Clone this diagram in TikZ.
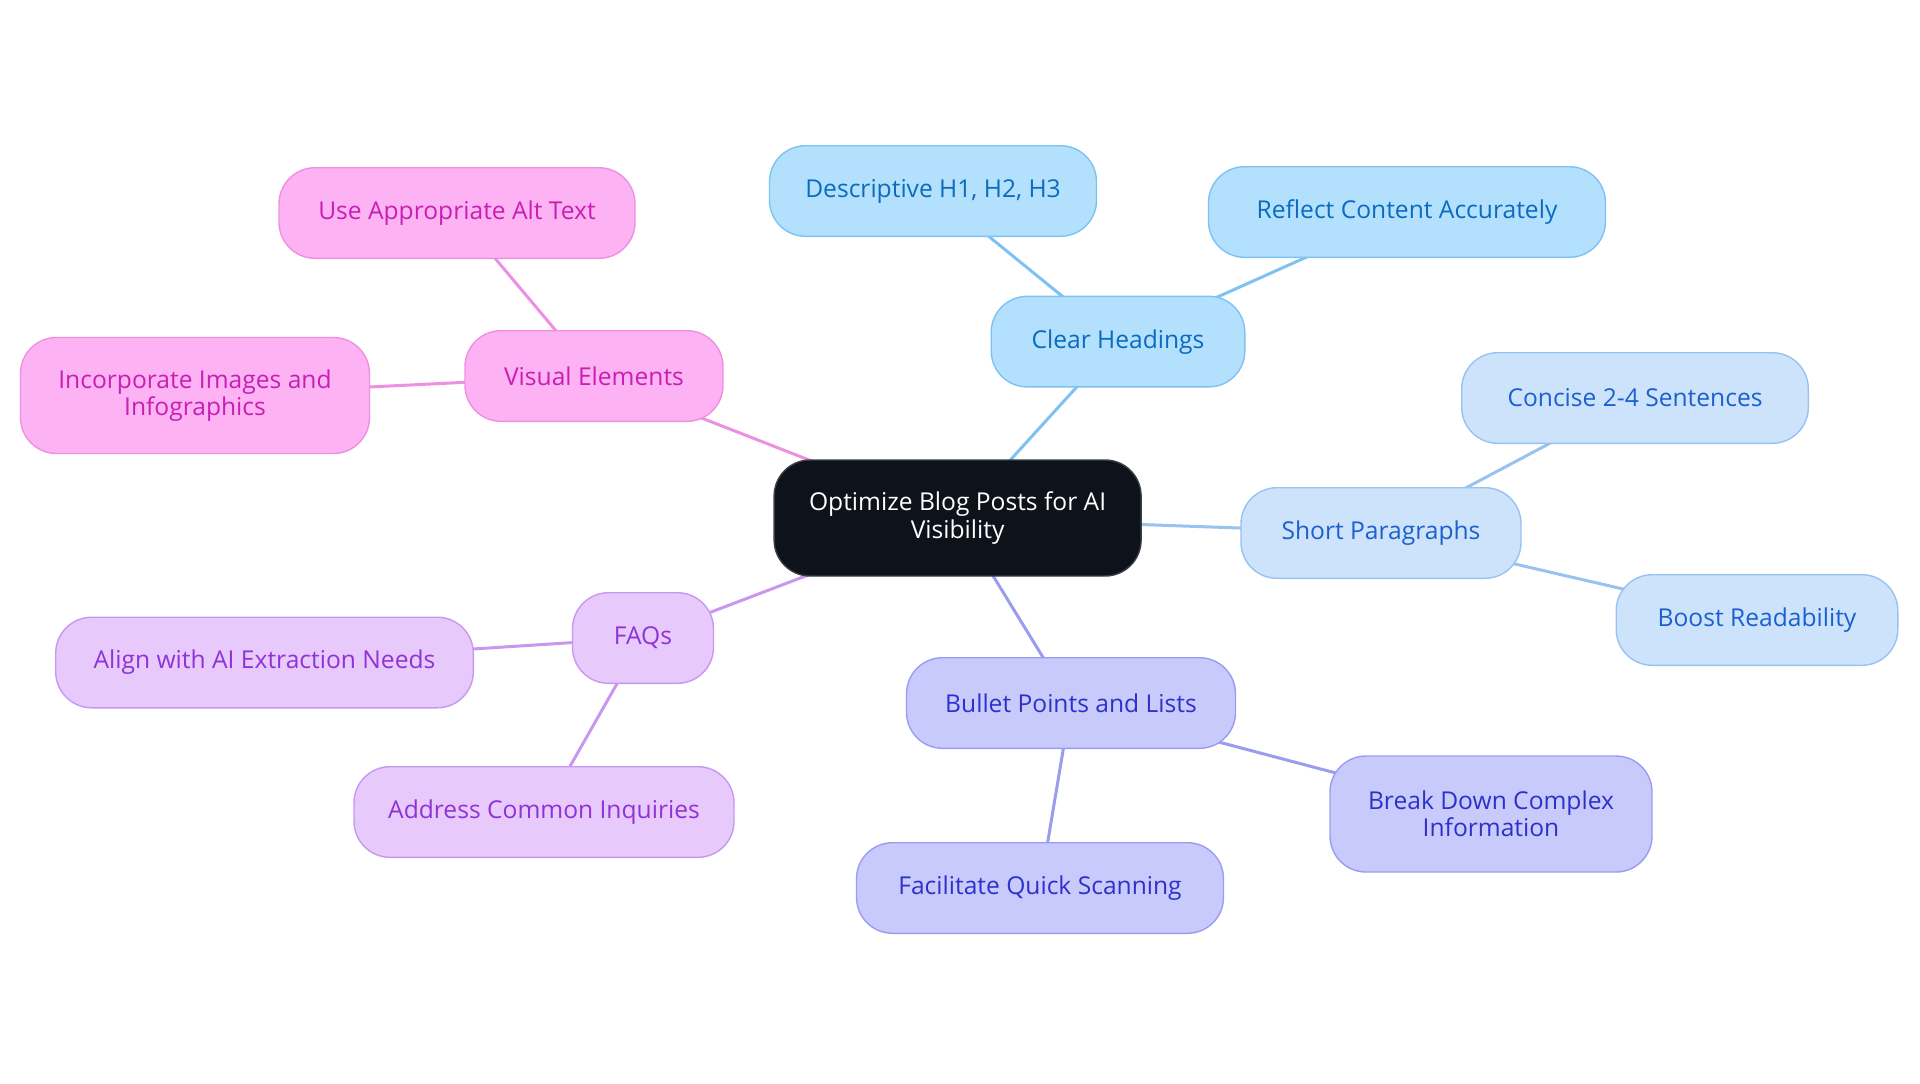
\documentclass[tikz,border=0pt]{standalone}
\usepackage{fontspec}
\setmainfont{Open Sans}
\usetikzlibrary{positioning,backgrounds}

\definecolor{rootfill}{HTML}{0D121B}
\definecolor{rootline}{HTML}{3B3F46}
\definecolor{headfill}{HTML}{B3E0FD}
\definecolor{headline}{HTML}{7FC2F2}
\definecolor{headtext}{HTML}{0B6BBF}
\definecolor{parafill}{HTML}{CDE3FB}
\definecolor{paraline}{HTML}{98C2EF}
\definecolor{paratext}{HTML}{1B60CC}
\definecolor{listfill}{HTML}{C9CAFC}
\definecolor{listline}{HTML}{9A9CF0}
\definecolor{listtext}{HTML}{2E31C9}
\definecolor{faqfill}{HTML}{E7C9FC}
\definecolor{faqline}{HTML}{C898F0}
\definecolor{faqtext}{HTML}{8F33D6}
\definecolor{visfill}{HTML}{FDB3F3}
\definecolor{visline}{HTML}{EE90E2}
\definecolor{vistext}{HTML}{C81EB3}

\begin{document}
\begin{tikzpicture}[x=0.5pt, y=-0.5pt,
	font=\fontsize{12.3}{13.6}\selectfont,
	box/.style={rounded corners=18pt, line width=0.7pt, align=center, minimum height=45.3pt, inner sep=0pt},
	root/.style={box, fill=rootfill, draw=rootline, text=white, minimum height=58pt},
	head/.style={box, fill=headfill, draw=headline, text=headtext},
	para/.style={box, fill=parafill, draw=paraline, text=paratext},
	list/.style={box, fill=listfill, draw=listline, text=listtext},
	faq/.style={box, fill=faqfill, draw=faqline, text=faqtext},
	vis/.style={box, fill=visfill, draw=visline, text=vistext},
	link/.style={line width=1.5pt}]
	\useasboundingbox (0,0) rectangle (1920,1083);
	% centre
	\node[root, minimum width=183.5pt] (blog) at (957.6,518) {Optimize Blog Posts for AI\\Visibility};
	% clear headings
	\node[head, minimum width=126.8pt] (headings) at (1118,341.6) {Clear Headings};
	\node[head, minimum width=163.5pt] (descr) at (933,191) {Descriptive H1, H2, H3};
	\node[head, minimum width=198.5pt] (reflect) at (1407,212) {Reflect Content Accurately};
	% short paragraphs
	\node[para, minimum width=140pt] (paras) at (1381,533) {Short Paragraphs};
	\node[para, minimum width=173.3pt] (concise) at (1635,398) {Concise 2-4 Sentences};
	\node[para, minimum width=140.8pt] (boost) at (1757,620) {Boost Readability};
	% bullet points
	\node[list, minimum width=164.5pt] (bullets) at (1071,703) {Bullet Points and Lists};
	\node[list, minimum width=161pt, minimum height=58pt] (breakdown) at (1491,814) {Break Down Complex\\Information};
	\node[list, minimum width=183.5pt] (scan) at (1040,888) {Facilitate Quick Scanning};
	% faqs
	\node[faq, minimum width=70.5pt] (faqs) at (643,638) {FAQs};
	\node[faq, minimum width=208.8pt] (align) at (264.5,662.5) {Align with AI Extraction Needs};
	\node[faq, minimum width=190pt] (inquiries) at (544,812) {Address Common Inquiries};
	% visual elements
	\node[vis, minimum width=129pt] (visual) at (594,376) {Visual Elements};
	\node[vis, minimum width=178pt] (alttext) at (457,213) {Use Appropriate Alt Text};
	\node[vis, minimum width=174.5pt, minimum height=58pt] (images) at (195,395.5) {Incorporate Images and\\Infographics};
	% links, centre to centre behind the boxes
	\begin{scope}[on background layer]
	\draw[link, headline] (blog.center) -- (headings.center);
	\draw[link, headline] (headings.center) -- (descr.center);
	\draw[link, headline] (headings.center) -- (reflect.center);
	\draw[link, paraline] (blog.center) -- (paras.center);
	\draw[link, paraline] (paras.center) -- (concise.center);
	\draw[link, paraline] (paras.center) -- (boost.center);
	\draw[link, listline] (blog.center) -- (bullets.center);
	\draw[link, listline] (bullets.center) -- (breakdown.center);
	\draw[link, listline] (bullets.center) -- (scan.center);
	\draw[link, faqline] (blog.center) -- (faqs.center);
	\draw[link, faqline] (faqs.center) -- (align.center);
	\draw[link, faqline] (faqs.center) -- (inquiries.center);
	\draw[link, visline] (blog.center) -- (visual.center);
	\draw[link, visline] (visual.center) -- (alttext.center);
	\draw[link, visline] (visual.center) -- (images.center);
	\end{scope}
\end{tikzpicture}
\end{document}
